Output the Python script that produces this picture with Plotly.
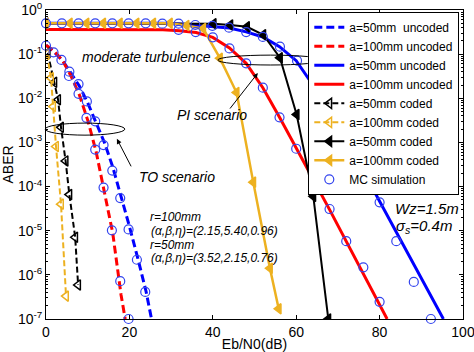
import plotly.graph_objects as go

# ---------------- data ----------------
# TO scenario, uncoded (dashed)
to_blue_x = [0, 2, 4, 6, 8, 10, 12, 14, 16, 18, 20, 22, 24, 25.3]
to_blue_y = [1.6e-1, 1.1e-1, 7.1e-2, 3.8e-2, 1.9e-2, 7.9e-3, 2.8e-3, 1.0e-3, 2.8e-4, 6.3e-5, 1.26e-5, 2.4e-6, 4.2e-7, 1.0e-7]
to_red_x = [0, 2, 4, 6, 8, 10, 12, 14, 16, 18, 19.0]
to_red_y = [1.6e-1, 1.17e-1, 7.1e-2, 3.2e-2, 1.2e-2, 3.2e-3, 6.3e-4, 7.9e-5, 8.9e-6, 3.5e-7, 1.0e-7]
# TO scenario, coded (dashed + triangles)
to_black_x = [0.4, 2.0, 2.9, 3.6, 4.7, 5.6, 7.0, 7.7]
to_black_y = [1.07e-1, 2.3e-2, 9.3e-3, 2.2e-3, 3.8e-4, 6.6e-5, 7.1e-6, 5.9e-7]
to_yellow_x = [0.2, 1.2, 1.7, 2.4, 3.6, 4.8]
to_yellow_y = [1.0e-1, 2.9e-2, 6.5e-3, 8.1e-4, 4.0e-5, 3.3e-7]

# PI scenario, uncoded (solid)
pi_blue_x = [0, 28, 32, 36, 40, 44, 48, 52, 56, 60, 64, 68, 72, 76, 80, 84, 88, 92, 95.3]
pi_blue_y = [0.5, 0.5, 0.48, 0.45, 0.43, 0.39, 0.32, 0.245, 0.148, 7.1e-2, 2.0e-2, 4.7e-3, 1.07e-3, 2.3e-4, 4.7e-5, 9.5e-6, 1.9e-6, 3.8e-7, 1.0e-7]
pi_red_x = [0, 24, 28, 32, 36, 40, 44, 48, 52, 56, 60, 64, 68, 72, 76, 80, 81.8]
pi_red_y = [0.363, 0.363, 0.355, 0.339, 0.309, 0.24, 0.138, 6.2e-2, 1.74e-2, 3.7e-3, 7.2e-4, 1.5e-4, 3.0e-5, 5.8e-6, 1.12e-6, 2.1e-7, 1.0e-7]
# PI scenario, coded (solid + triangles)
pi_black_x = [0, 40.2, 44.2, 48.2, 52.1, 56.1, 60.1, 64.1, 67.7]
pi_black_y = [0.5, 0.49, 0.457, 0.417, 0.275, 8.3e-2, 4.3e-3, 6.0e-5, 1.0e-7]
pi_yellow_x = [0, 5.7, 9.7, 13.7, 17.7, 21.7, 25.7, 29.7, 33.7, 37.7, 41.7, 45.7, 49.7, 53.7, 55.8]
pi_yellow_y = [0.5, 0.5, 0.5, 0.5, 0.5, 0.5, 0.5, 0.5, 0.447, 0.38, 8.1e-2, 1.35e-2, 1.26e-4, 1.41e-6, 1.7e-7]

# Monte-Carlo simulation points
mc_to_blue_x = [0, 1.8, 3.7, 5.6, 7.8, 9.8, 11.8, 13.8, 15.9, 17.8, 19.8, 21.8, 23.8]
mc_to_blue_y = [1.55e-1, 1.1e-1, 7.4e-2, 4.0e-2, 2.1e-2, 8.5e-3, 3.0e-3, 8.7e-4, 2.3e-4, 5.5e-5, 1.07e-5, 2.2e-6, 4.1e-7]
mc_to_red_x = [5.5, 7.8, 9.7, 11.8, 13.8, 15.8, 17.8, 19.8]
mc_to_red_y = [3.2e-2, 1.26e-2, 3.6e-3, 6.9e-4, 9.5e-5, 1.02e-5, 7.2e-7, 1.0e-7]
mc_pi_blue_x = [0, 3.8, 7.8, 11.8, 15.9, 19.8, 23.9, 27.9, 31.8, 35.8, 39.9, 43.9, 48, 52, 56.1, 60.2, 76.1, 80, 84, 88.2, 92.3]
mc_pi_blue_y = [0.5, 0.5, 0.5, 0.5, 0.5, 0.5, 0.5, 0.49, 0.49, 0.457, 0.437, 0.398, 0.316, 0.245, 0.148, 7.1e-2, 2.3e-4, 4.4e-5, 5.8e-6, 6.9e-7, 1.0e-7]
mc_pi_red_x = [31.8, 35.9, 40, 44, 48, 52, 56, 60, 64.1, 68, 72, 76.1, 80]
mc_pi_red_y = [0.355, 0.316, 0.24, 0.135, 6.2e-2, 1.74e-2, 3.7e-3, 7.2e-4, 1.5e-4, 3.1e-5, 5.8e-6, 1.48e-6, 2.45e-7]

x_ticks = [0, 20, 40, 60, 80, 100]
y_ticks = [1e-7, 1e-6, 1e-5, 1e-4, 1e-3, 1e-2, 1e-1, 1e0]
y_tick_text = ["10<sup>-7</sup>", "10<sup>-6</sup>", "10<sup>-5</sup>", "10<sup>-4</sup>",
               "10<sup>-3</sup>", "10<sup>-2</sup>", "10<sup>-1</sup>", "10<sup>0</sup>"]

BLUE = "#0000ff"
RED = "#ff0000"
BLACK = "#000000"
YELLOW = "#EDB120"
FONT = "Arial, Liberation Sans, Helvetica, sans-serif"

fig = go.Figure()

def line(x, y, name, color, dash, width, marker=None):
    kw = dict(x=x, y=y, name=name, line=dict(color=color, dash=dash, width=width))
    if marker:
        kw["mode"] = "lines+markers"
        kw["marker"] = dict(symbol=marker, size=9, color=color,
                            line=dict(color=color, width=1.5))
    else:
        kw["mode"] = "lines"
    fig.add_trace(go.Scatter(**kw))

line(to_blue_x, to_blue_y, "a=50mm  uncoded", BLUE, "8px,4px", 3)
line(to_red_x, to_red_y, "a=100mm uncoded", RED, "8px,4px", 3)
line(pi_blue_x, pi_blue_y, "a=50mm uncoded", BLUE, "solid", 3)
line(pi_red_x, pi_red_y, "a=100mm uncoded", RED, "solid", 3)
line(to_black_x, to_black_y, "a=50mm coded", BLACK, "6px,3px", 2, "triangle-left-open")
line(to_yellow_x, to_yellow_y, "a=100mm coded", YELLOW, "6px,3px", 2, "triangle-left-open")
line(pi_black_x, pi_black_y, "a=50mm coded", BLACK, "solid", 2, "triangle-left")
line(pi_yellow_x, pi_yellow_y, "a=100mm coded", YELLOW, "solid", 2.5, "triangle-left")

for i, (mx, my) in enumerate([(mc_to_blue_x, mc_to_blue_y), (mc_to_red_x, mc_to_red_y),
                              (mc_pi_blue_x, mc_pi_blue_y), (mc_pi_red_x, mc_pi_red_y)]):
    fig.add_trace(go.Scatter(
        x=mx, y=my, mode="markers", name="MC simulation", showlegend=(i == 0),
        cliponaxis=False,
        marker=dict(symbol="circle-open", size=9, color="#3344ee", line=dict(width=1.2)),
    ))

# ---------------- annotations ----------------
def txt(x, y, text, size, xanchor="left"):
    fig.add_annotation(xref="paper", yref="paper", x=x, y=y, text=text, showarrow=False,
                       xanchor=xanchor, yanchor="middle",
                       font=dict(family=FONT, size=size, color="black"))

txt(0.242, 0.848, "<i>moderate turbulence</i>", 14, "center")
txt(0.399, 0.660, "<i>PI scenario</i>", 14, "center")
txt(0.313, 0.460, "<i>TO scenario</i>", 14, "center")
txt(0.245, 0.330, "<i>r=100mm</i>", 12)
txt(0.247, 0.285, "<i>(α,β,η)=(2.15,5.40,0.96)</i>", 12)
txt(0.245, 0.239, "<i>r=50mm</i>", 12)
txt(0.247, 0.197, "<i>(α,β,η)=(3.52,2.15,0.76)</i>", 12)
txt(0.833, 0.358, "<i>Wz=1.5m</i>", 15)
txt(0.835, 0.300, "<i>σ<sub>s</sub>=0.4m</i>", 15)

fig.add_shape(type="circle", xref="paper", yref="paper", x0=0.412, x1=0.664, y0=0.822, y1=0.854,
              line=dict(color="black", width=1))
fig.add_shape(type="circle", xref="paper", yref="paper", x0=-0.002, x1=0.189, y0=0.595, y1=0.634,
              line=dict(color="black", width=1))

fig.add_annotation(xref="paper", yref="paper", x=0.508, y=0.796, ax=-29, ay=37, text="",
                   showarrow=True, arrowhead=2, arrowsize=1, arrowwidth=1, arrowcolor="black")
fig.add_annotation(xref="paper", yref="paper", x=0.170, y=0.583, ax=15, ay=29, text="",
                   showarrow=True, arrowhead=2, arrowsize=1, arrowwidth=1, arrowcolor="black")

# ---------------- layout ----------------
axis_common = dict(showline=True, linecolor="black", linewidth=1, mirror="ticks",
                   ticks="inside", ticklen=4, tickcolor="black", showgrid=False, zeroline=False,
                   ticklabeloverflow="allow",
                   tickfont=dict(family=FONT, size=14, color="black"))

fig.update_layout(
    width=474, height=352,
    margin=dict(l=46, r=11, t=10, b=33, autoexpand=False),
    paper_bgcolor="white", plot_bgcolor="white",
    font=dict(family=FONT, size=14, color="black"),
    xaxis=dict(range=[0, 100], tickvals=x_ticks,
               title=dict(text="Eb/N0(dB)", font=dict(size=14), standoff=2), **axis_common),
    yaxis=dict(type="log", range=[-7, 0], tickvals=y_ticks, ticktext=y_tick_text,
               minor=dict(ticks="inside", ticklen=2, tickcolor="black", dtick="D1", showgrid=False),
               title=dict(text="ABER", font=dict(size=14), standoff=2), **axis_common),
    legend=dict(x=0.629, y=0.994, xanchor="left", yanchor="top",
                bgcolor="white", bordercolor="black", borderwidth=1,
                font=dict(family=FONT, size=12, color="black"),
                tracegroupgap=0, itemwidth=30),
    showlegend=True,
)

fig.write_html("out.html")
